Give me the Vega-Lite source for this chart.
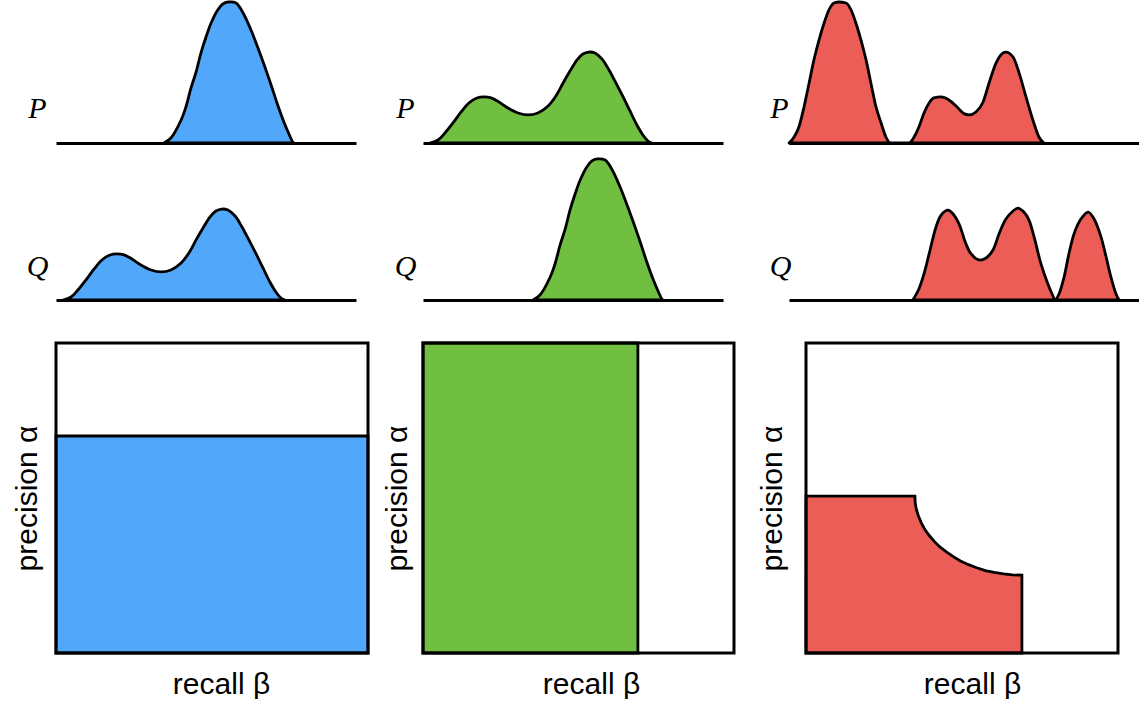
{
  "$schema": "https://vega.github.io/schema/vega-lite/v6.json",
  "background": "white",
  "padding": {"left": 12, "top": 0, "right": 0, "bottom": 0},
  "columns": 3,
  "align": "each",
  "bounds": "flush",
  "spacing": {"row": 43, "column": 55},
  "config": {
    "view": {"stroke": null},
    "axis": {"grid": false, "ticks": false, "labels": false, "domain": false, "titleColor": "black", "titleFontWeight": "normal"}
  },
  "datasets": {
    "p1": [
      {"score": 0.360, "density": 0}, {"score": 0.383, "density": 0.035}, {"score": 0.417, "density": 0.161},
      {"score": 0.433, "density": 0.252}, {"score": 0.450, "density": 0.385}, {"score": 0.467, "density": 0.497},
      {"score": 0.483, "density": 0.629}, {"score": 0.500, "density": 0.741}, {"score": 0.517, "density": 0.839},
      {"score": 0.539, "density": 0.930}, {"score": 0.556, "density": 0.972}, {"score": 0.574, "density": 0.986},
      {"score": 0.600, "density": 0.979}, {"score": 0.622, "density": 0.916}, {"score": 0.650, "density": 0.790},
      {"score": 0.672, "density": 0.671}, {"score": 0.694, "density": 0.545}, {"score": 0.717, "density": 0.406},
      {"score": 0.739, "density": 0.266}, {"score": 0.761, "density": 0.140}, {"score": 0.778, "density": 0.056},
      {"score": 0.789, "density": 0.007}, {"score": 0.793, "density": 0}
    ],
    "q1": [
      {"score": 0.023, "density": 0}, {"score": 0.050, "density": 0.021}, {"score": 0.073, "density": 0.070},
      {"score": 0.100, "density": 0.140}, {"score": 0.127, "density": 0.217}, {"score": 0.153, "density": 0.280},
      {"score": 0.180, "density": 0.315}, {"score": 0.203, "density": 0.322}, {"score": 0.227, "density": 0.315},
      {"score": 0.253, "density": 0.287}, {"score": 0.283, "density": 0.245}, {"score": 0.317, "density": 0.210},
      {"score": 0.350, "density": 0.196}, {"score": 0.383, "density": 0.210}, {"score": 0.417, "density": 0.259},
      {"score": 0.443, "density": 0.329}, {"score": 0.467, "density": 0.420}, {"score": 0.490, "density": 0.503},
      {"score": 0.513, "density": 0.580}, {"score": 0.533, "density": 0.622}, {"score": 0.553, "density": 0.636},
      {"score": 0.573, "density": 0.629}, {"score": 0.597, "density": 0.587}, {"score": 0.620, "density": 0.510},
      {"score": 0.643, "density": 0.420}, {"score": 0.667, "density": 0.322}, {"score": 0.690, "density": 0.224},
      {"score": 0.713, "density": 0.126}, {"score": 0.733, "density": 0.056}, {"score": 0.750, "density": 0.014},
      {"score": 0.763, "density": 0}
    ],
    "p2": [
      {"score": 0.023, "density": 0}, {"score": 0.050, "density": 0.021}, {"score": 0.073, "density": 0.070},
      {"score": 0.100, "density": 0.140}, {"score": 0.127, "density": 0.217}, {"score": 0.153, "density": 0.280},
      {"score": 0.180, "density": 0.315}, {"score": 0.203, "density": 0.322}, {"score": 0.227, "density": 0.315},
      {"score": 0.253, "density": 0.287}, {"score": 0.283, "density": 0.245}, {"score": 0.317, "density": 0.210},
      {"score": 0.350, "density": 0.196}, {"score": 0.383, "density": 0.210}, {"score": 0.417, "density": 0.259},
      {"score": 0.443, "density": 0.329}, {"score": 0.467, "density": 0.420}, {"score": 0.490, "density": 0.503},
      {"score": 0.513, "density": 0.580}, {"score": 0.533, "density": 0.622}, {"score": 0.553, "density": 0.636},
      {"score": 0.573, "density": 0.629}, {"score": 0.597, "density": 0.587}, {"score": 0.620, "density": 0.510},
      {"score": 0.643, "density": 0.420}, {"score": 0.667, "density": 0.322}, {"score": 0.690, "density": 0.224},
      {"score": 0.713, "density": 0.126}, {"score": 0.733, "density": 0.056}, {"score": 0.750, "density": 0.014},
      {"score": 0.763, "density": 0}
    ],
    "q2": [
      {"score": 0.367, "density": 0}, {"score": 0.390, "density": 0.035}, {"score": 0.424, "density": 0.161},
      {"score": 0.440, "density": 0.252}, {"score": 0.457, "density": 0.385}, {"score": 0.474, "density": 0.497},
      {"score": 0.490, "density": 0.629}, {"score": 0.507, "density": 0.741}, {"score": 0.524, "density": 0.839},
      {"score": 0.546, "density": 0.930}, {"score": 0.563, "density": 0.972}, {"score": 0.581, "density": 0.986},
      {"score": 0.607, "density": 0.979}, {"score": 0.629, "density": 0.916}, {"score": 0.657, "density": 0.790},
      {"score": 0.679, "density": 0.671}, {"score": 0.701, "density": 0.545}, {"score": 0.724, "density": 0.406},
      {"score": 0.746, "density": 0.266}, {"score": 0.768, "density": 0.140}, {"score": 0.785, "density": 0.056},
      {"score": 0.796, "density": 0.007}, {"score": 0.800, "density": 0}
    ],
    "p3": [
      {"score": 0.000, "density": 0}, {"score": 0.017, "density": 0.042}, {"score": 0.033, "density": 0.112},
      {"score": 0.050, "density": 0.252}, {"score": 0.067, "density": 0.420}, {"score": 0.083, "density": 0.580},
      {"score": 0.100, "density": 0.720}, {"score": 0.117, "density": 0.839}, {"score": 0.133, "density": 0.930},
      {"score": 0.150, "density": 0.979}, {"score": 0.167, "density": 0.986}, {"score": 0.190, "density": 0.979},
      {"score": 0.207, "density": 0.930}, {"score": 0.223, "density": 0.839}, {"score": 0.240, "density": 0.720},
      {"score": 0.257, "density": 0.580}, {"score": 0.273, "density": 0.420}, {"score": 0.290, "density": 0.252},
      {"score": 0.307, "density": 0.140}, {"score": 0.323, "density": 0.042}, {"score": 0.340, "density": 0},
      {"score": 0.400, "density": 0}, {"score": 0.417, "density": 0.042}, {"score": 0.433, "density": 0.112},
      {"score": 0.450, "density": 0.210}, {"score": 0.467, "density": 0.280}, {"score": 0.483, "density": 0.315},
      {"score": 0.507, "density": 0.322}, {"score": 0.533, "density": 0.301}, {"score": 0.557, "density": 0.259},
      {"score": 0.580, "density": 0.210}, {"score": 0.600, "density": 0.196}, {"score": 0.623, "density": 0.217},
      {"score": 0.647, "density": 0.287}, {"score": 0.667, "density": 0.420}, {"score": 0.690, "density": 0.559},
      {"score": 0.713, "density": 0.629}, {"score": 0.723, "density": 0.636}, {"score": 0.747, "density": 0.601},
      {"score": 0.767, "density": 0.490}, {"score": 0.790, "density": 0.322}, {"score": 0.813, "density": 0.161},
      {"score": 0.833, "density": 0.042}, {"score": 0.850, "density": 0}
    ],
    "q3": [
      {"score": 0.413, "density": 0}, {"score": 0.433, "density": 0.077}, {"score": 0.450, "density": 0.182},
      {"score": 0.467, "density": 0.322}, {"score": 0.490, "density": 0.510}, {"score": 0.507, "density": 0.594},
      {"score": 0.530, "density": 0.629}, {"score": 0.550, "density": 0.594}, {"score": 0.567, "density": 0.531},
      {"score": 0.590, "density": 0.392}, {"score": 0.607, "density": 0.322}, {"score": 0.633, "density": 0.280},
      {"score": 0.657, "density": 0.294}, {"score": 0.680, "density": 0.350}, {"score": 0.700, "density": 0.462},
      {"score": 0.723, "density": 0.566}, {"score": 0.747, "density": 0.622}, {"score": 0.763, "density": 0.643},
      {"score": 0.783, "density": 0.615}, {"score": 0.800, "density": 0.559}, {"score": 0.817, "density": 0.441},
      {"score": 0.840, "density": 0.252}, {"score": 0.863, "density": 0.112}, {"score": 0.880, "density": 0.028},
      {"score": 0.887, "density": 0}, {"score": 0.900, "density": 0.042}, {"score": 0.917, "density": 0.161},
      {"score": 0.933, "density": 0.322}, {"score": 0.950, "density": 0.462}, {"score": 0.973, "density": 0.566},
      {"score": 0.997, "density": 0.615}, {"score": 1.017, "density": 0.566}, {"score": 1.040, "density": 0.441},
      {"score": 1.057, "density": 0.301}, {"score": 1.073, "density": 0.161}, {"score": 1.090, "density": 0.042},
      {"score": 1.100, "density": 0}
    ],
    "pr1": [
      {"recall": 0, "precision": 0.70}, {"recall": 1, "precision": 0.70}
    ],
    "pr2": [
      {"recall": 0, "precision": 1}, {"recall": 0.691, "precision": 1}, {"recall": 0.691, "precision": 0}
    ],
    "pr3": [
      {"recall": 0, "precision": 0.506}, {"recall": 0.349, "precision": 0.506}, {"recall": 0.350, "precision": 0.484},
      {"recall": 0.354, "precision": 0.462}, {"recall": 0.361, "precision": 0.440}, {"recall": 0.370, "precision": 0.419},
      {"recall": 0.381, "precision": 0.398}, {"recall": 0.395, "precision": 0.379}, {"recall": 0.411, "precision": 0.360},
      {"recall": 0.429, "precision": 0.342}, {"recall": 0.450, "precision": 0.326}, {"recall": 0.472, "precision": 0.311},
      {"recall": 0.495, "precision": 0.297}, {"recall": 0.521, "precision": 0.285}, {"recall": 0.547, "precision": 0.275},
      {"recall": 0.575, "precision": 0.266}, {"recall": 0.603, "precision": 0.260}, {"recall": 0.633, "precision": 0.255},
      {"recall": 0.662, "precision": 0.252}, {"recall": 0.692, "precision": 0.251}, {"recall": 0.692, "precision": 0}
    ]
  },
  "concat": [
    {
      "width": 300, "height": 143,
      "data": {"name": "p1"},
      "mark": {"type": "area", "fill": "#51A7F9", "stroke": "black", "strokeWidth": 2.8, "strokeJoin": "round", "interpolate": "catmull-rom", "opacity": 1},
      "encoding": {
        "x": {"field": "score", "type": "quantitative", "scale": {"domain": [0, 1], "nice": false, "zero": false},
              "axis": {"domain": true, "domainColor": "black", "domainWidth": 3, "title": null, "zindex": 1}},
        "y": {"field": "density", "type": "quantitative", "scale": {"domain": [0, 1], "nice": false},
              "axis": {"title": "P", "titleAngle": 0, "titleX": -19, "titleY": 117, "titleAlign": "center", "titleBaseline": "alphabetic",
                       "titleFont": "Liberation Serif", "titleFontStyle": "italic", "titleFontSize": 30}}
      }
    },
    {
      "width": 300, "height": 143,
      "data": {"name": "p2"},
      "mark": {"type": "area", "fill": "#70BF41", "stroke": "black", "strokeWidth": 2.8, "strokeJoin": "round", "interpolate": "catmull-rom", "opacity": 1},
      "encoding": {
        "x": {"field": "score", "type": "quantitative", "scale": {"domain": [0, 1], "nice": false, "zero": false},
              "axis": {"domain": true, "domainColor": "black", "domainWidth": 3, "title": null, "zindex": 1}},
        "y": {"field": "density", "type": "quantitative", "scale": {"domain": [0, 1], "nice": false},
              "axis": {"title": "P", "titleAngle": 0, "titleX": -18, "titleY": 117, "titleAlign": "center", "titleBaseline": "alphabetic",
                       "titleFont": "Liberation Serif", "titleFontStyle": "italic", "titleFontSize": 30}}
      }
    },
    {
      "width": 350, "height": 143,
      "data": {"name": "p3"},
      "mark": {"type": "area", "fill": "#EC5D57", "stroke": "black", "strokeWidth": 2.8, "strokeJoin": "round", "interpolate": "monotone", "opacity": 1},
      "encoding": {
        "x": {"field": "score", "type": "quantitative", "scale": {"domain": [0, 1.1667], "nice": false, "zero": false},
              "axis": {"domain": true, "domainColor": "black", "domainWidth": 3, "title": null, "zindex": 1}},
        "y": {"field": "density", "type": "quantitative", "scale": {"domain": [0, 1], "nice": false},
              "axis": {"title": "P", "titleAngle": 0, "titleX": -10, "titleY": 117, "titleAlign": "center", "titleBaseline": "alphabetic",
                       "titleFont": "Liberation Serif", "titleFontStyle": "italic", "titleFontSize": 30}}
      }
    },
    {
      "width": 300, "height": 114,
      "data": {"name": "q1"},
      "mark": {"type": "area", "fill": "#51A7F9", "stroke": "black", "strokeWidth": 2.8, "strokeJoin": "round", "interpolate": "catmull-rom", "opacity": 1},
      "encoding": {
        "x": {"field": "score", "type": "quantitative", "scale": {"domain": [0, 1], "nice": false, "zero": false},
              "axis": {"domain": true, "domainColor": "black", "domainWidth": 3, "title": null, "zindex": 1}},
        "y": {"field": "density", "type": "quantitative", "scale": {"domain": [0, 0.797], "nice": false},
              "axis": {"title": "Q", "titleAngle": 0, "titleX": -19, "titleY": 89, "titleAlign": "center", "titleBaseline": "alphabetic",
                       "titleFont": "Liberation Serif", "titleFontStyle": "italic", "titleFontSize": 30}}
      }
    },
    {
      "width": 300, "height": 114,
      "data": {"name": "q2"},
      "mark": {"type": "area", "fill": "#70BF41", "stroke": "black", "strokeWidth": 2.8, "strokeJoin": "round", "interpolate": "catmull-rom", "opacity": 1},
      "encoding": {
        "x": {"field": "score", "type": "quantitative", "scale": {"domain": [0, 1], "nice": false, "zero": false},
              "axis": {"domain": true, "domainColor": "black", "domainWidth": 3, "title": null, "zindex": 1}},
        "y": {"field": "density", "type": "quantitative", "scale": {"domain": [0, 0.797], "nice": false},
              "axis": {"title": "Q", "titleAngle": 0, "titleX": -18, "titleY": 89, "titleAlign": "center", "titleBaseline": "alphabetic",
                       "titleFont": "Liberation Serif", "titleFontStyle": "italic", "titleFontSize": 30}}
      }
    },
    {
      "width": 350, "height": 114,
      "data": {"name": "q3"},
      "mark": {"type": "area", "fill": "#EC5D57", "stroke": "black", "strokeWidth": 2.8, "strokeJoin": "round", "interpolate": "catmull-rom", "opacity": 1},
      "encoding": {
        "x": {"field": "score", "type": "quantitative", "scale": {"domain": [0, 1.1667], "nice": false, "zero": false},
              "axis": {"domain": true, "domainColor": "black", "domainWidth": 3, "title": null, "zindex": 1}},
        "y": {"field": "density", "type": "quantitative", "scale": {"domain": [0, 0.797], "nice": false},
              "axis": {"title": "Q", "titleAngle": 0, "titleX": -9, "titleY": 89, "titleAlign": "center", "titleBaseline": "alphabetic",
                       "titleFont": "Liberation Serif", "titleFontStyle": "italic", "titleFontSize": 30}}
      }
    },
    {
      "width": 312, "height": 310,
      "layer": [
        {
          "data": {"name": "pr1"},
          "mark": {"type": "area", "fill": "#51A7F9", "stroke": "black", "strokeWidth": 2.8, "interpolate": "linear", "opacity": 1},
          "encoding": {
            "x": {"field": "recall", "type": "quantitative", "scale": {"domain": [0, 1], "nice": false, "zero": false},
                  "axis": {"title": "recall β", "titleX": 165, "titleY": 40, "titleAlign": "center", "titleBaseline": "alphabetic", "titleAngle": 0,
                           "titleFont": "Liberation Sans", "titleFontSize": 30}},
            "y": {"field": "precision", "type": "quantitative", "scale": {"domain": [0, 1], "nice": false},
                  "axis": {"title": "precision α", "titleX": -20, "titleY": 155, "titleAlign": "center", "titleBaseline": "alphabetic", "titleAngle": -90,
                           "titleFont": "Liberation Sans", "titleFontSize": 30}}
          }
        },
        {
          "data": {"values": [{}]},
          "mark": {"type": "rect", "fillOpacity": 0, "stroke": "black", "strokeWidth": 3},
          "encoding": {
            "x": {"datum": 0, "type": "quantitative"}, "x2": {"datum": 1},
            "y": {"datum": 0, "type": "quantitative"}, "y2": {"datum": 1}
          }
        }
      ]
    },
    {
      "width": 311, "height": 310,
      "layer": [
        {
          "data": {"name": "pr2"},
          "mark": {"type": "area", "fill": "#70BF41", "stroke": "black", "strokeWidth": 2.8, "interpolate": "linear", "opacity": 1},
          "encoding": {
            "x": {"field": "recall", "type": "quantitative", "scale": {"domain": [0, 1], "nice": false, "zero": false},
                  "axis": {"title": "recall β", "titleX": 168, "titleY": 40, "titleAlign": "center", "titleBaseline": "alphabetic", "titleAngle": 0,
                           "titleFont": "Liberation Sans", "titleFontSize": 30}},
            "y": {"field": "precision", "type": "quantitative", "scale": {"domain": [0, 1], "nice": false},
                  "axis": {"title": "precision α", "titleX": -17, "titleY": 155, "titleAlign": "center", "titleBaseline": "alphabetic", "titleAngle": -90,
                           "titleFont": "Liberation Sans", "titleFontSize": 30}}
          }
        },
        {
          "data": {"values": [{}]},
          "mark": {"type": "rect", "fillOpacity": 0, "stroke": "black", "strokeWidth": 3},
          "encoding": {
            "x": {"datum": 0, "type": "quantitative"}, "x2": {"datum": 1},
            "y": {"datum": 0, "type": "quantitative"}, "y2": {"datum": 1}
          }
        }
      ]
    },
    {
      "width": 329, "height": 310,
      "layer": [
        {
          "data": {"name": "pr3"},
          "mark": {"type": "area", "fill": "#EC5D57", "stroke": "black", "strokeWidth": 2.8, "interpolate": "linear", "opacity": 1},
          "encoding": {
            "x": {"field": "recall", "type": "quantitative", "scale": {"domain": [-0.0545, 1], "nice": false, "zero": false},
                  "axis": {"title": "recall β", "titleX": 183, "titleY": 40, "titleAlign": "center", "titleBaseline": "alphabetic", "titleAngle": 0,
                           "titleFont": "Liberation Sans", "titleFontSize": 30}},
            "y": {"field": "precision", "type": "quantitative", "scale": {"domain": [0, 1], "nice": false},
                  "axis": {"title": "precision α", "titleX": -8, "titleY": 155, "titleAlign": "center", "titleBaseline": "alphabetic", "titleAngle": -90,
                           "titleFont": "Liberation Sans", "titleFontSize": 30}}
          }
        },
        {
          "data": {"values": [{}]},
          "mark": {"type": "rect", "fillOpacity": 0, "stroke": "black", "strokeWidth": 3},
          "encoding": {
            "x": {"datum": 0, "type": "quantitative"}, "x2": {"datum": 1},
            "y": {"datum": 0, "type": "quantitative"}, "y2": {"datum": 1}
          }
        }
      ]
    }
  ]
}
